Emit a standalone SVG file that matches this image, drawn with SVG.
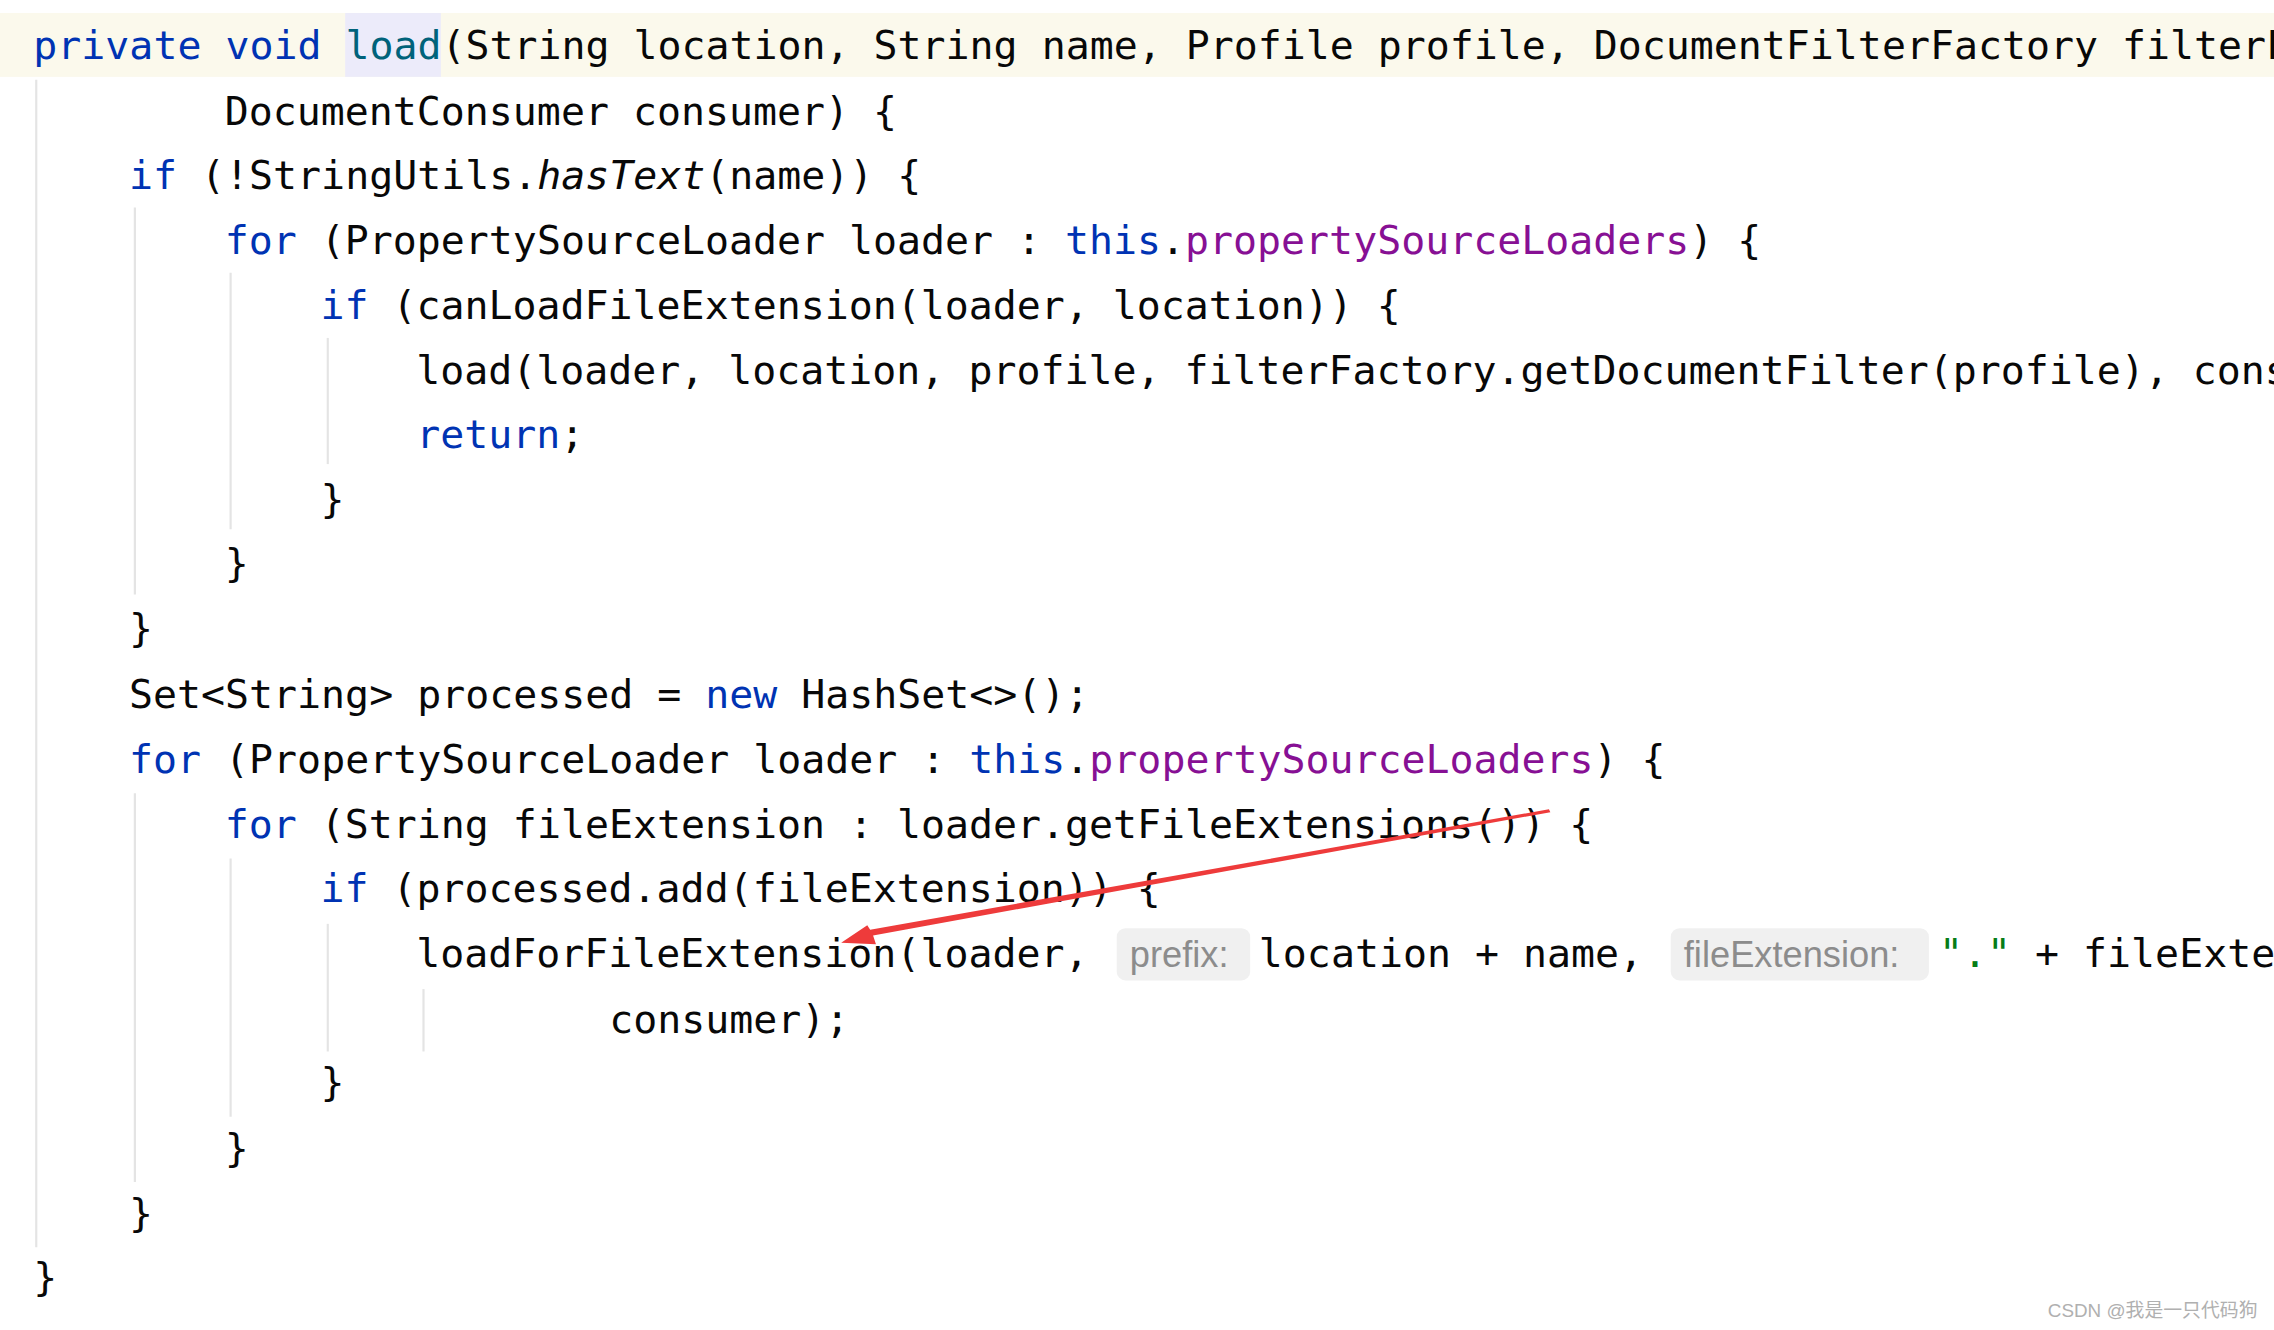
<svg xmlns="http://www.w3.org/2000/svg" width="2274" height="1330" viewBox="0 0 2274 1330">
<style>
.c{font-family:"DejaVu Sans Mono","Liberation Mono",monospace;font-size:27.5px;fill:#080808;white-space:pre}
.k{fill:#0033b3}.p{fill:#871094}.s{fill:#067d17}.f{fill:#00627a}.i{font-style:italic}
.h{font-family:"Liberation Sans","Noto Sans",sans-serif;font-size:25px;fill:#8c8c8c}
.hb{fill:#f0f0f0}
.g{stroke:#e4e4e4;stroke-width:1.5}
</style>
<rect width="2274" height="1330" fill="#fff"/>
<g transform="scale(1.4503)">
<rect x="0" y="9" width="1568" height="44" fill="#fbf9ec"/>
<rect x="238" y="9" width="66" height="44" fill="#ecebfa"/>
<g id="guides">
<line class="g" x1="25" y1="55" x2="25" y2="860"/>
<line class="g" x1="93" y1="143" x2="93" y2="410"/>
<line class="g" x1="93" y1="547" x2="93" y2="815"/>
<line class="g" x1="159" y1="188" x2="159" y2="365"/>
<line class="g" x1="159" y1="592" x2="159" y2="770"/>
<line class="g" x1="226" y1="233" x2="226" y2="320"/>
<line class="g" x1="226" y1="637" x2="226" y2="725"/>
<line class="g" x1="292" y1="682" x2="292" y2="725"/>
</g>
<rect class="hb" x="770" y="640" width="92" height="36" rx="6"/>
<rect class="hb" x="1152" y="640" width="178" height="36" rx="6"/>
<g id="code">
<text class="c" x="23" y="41"><tspan class="k">private void </tspan><tspan class="f">load</tspan>(String location, String name, Profile profile, DocumentFilterFactory filterFactory,</text>
<text class="c" x="155" y="86">DocumentConsumer consumer) {</text>
<text class="c" x="89" y="130"><tspan class="k">if</tspan> (!StringUtils.<tspan class="i">hasText</tspan>(name)) {</text>
<text class="c" x="155" y="175"><tspan class="k">for</tspan> (PropertySourceLoader loader : <tspan class="k">this</tspan>.<tspan class="p">propertySourceLoaders</tspan>) {</text>
<text class="c" x="221" y="220"><tspan class="k">if</tspan> (canLoadFileExtension(loader, location)) {</text>
<text class="c" x="287" y="265">load(loader, location, profile, filterFactory.getDocumentFilter(profile), consumer);</text>
<text class="c k" x="287" y="309">return<tspan style="fill:#080808">;</tspan></text>
<text class="c" x="221" y="354">}</text>
<text class="c" x="155" y="398">}</text>
<text class="c" x="89" y="443">}</text>
<text class="c" x="89" y="488">Set&lt;String&gt; processed = <tspan class="k">new</tspan> HashSet&lt;&gt;();</text>
<text class="c" x="89" y="533"><tspan class="k">for</tspan> (PropertySourceLoader loader : <tspan class="k">this</tspan>.<tspan class="p">propertySourceLoaders</tspan>) {</text>
<text class="c" x="155" y="578"><tspan class="k">for</tspan> (String fileExtension : loader.getFileExtensions()) {</text>
<text class="c" x="221" y="622"><tspan class="k">if</tspan> (processed.add(fileExtension)) {</text>
<text class="c" x="287" y="667">loadForFileExtension(loader, </text>
<text class="h" x="779" y="667">prefix:</text>
<text class="c" x="868" y="667">location + name, </text>
<text class="h" x="1161" y="667">fileExtension:</text>
<text class="c" x="1337" y="667"><tspan class="s">"."</tspan> + fileExtension, profile, filterFactory,</text>
<text class="c" x="420" y="712">consumer);</text>
<text class="c" x="221" y="756">}</text>
<text class="c" x="155" y="801">}</text>
<text class="c" x="89" y="846">}</text>
<text class="c" x="23" y="890">}</text>
</g>
<g id="connectors">
<polygon points="1068,558 1069,560 602,645 604,651 580,650 598,638 600,641" fill="#ee3b3b"/>
</g>
<text x="1412" y="908" style="font-family:'Liberation Sans','Noto Sans CJK SC',sans-serif;font-size:13px;fill:#b0b0b0">CSDN @我是一只代码狗</text>
</g>
</svg>
